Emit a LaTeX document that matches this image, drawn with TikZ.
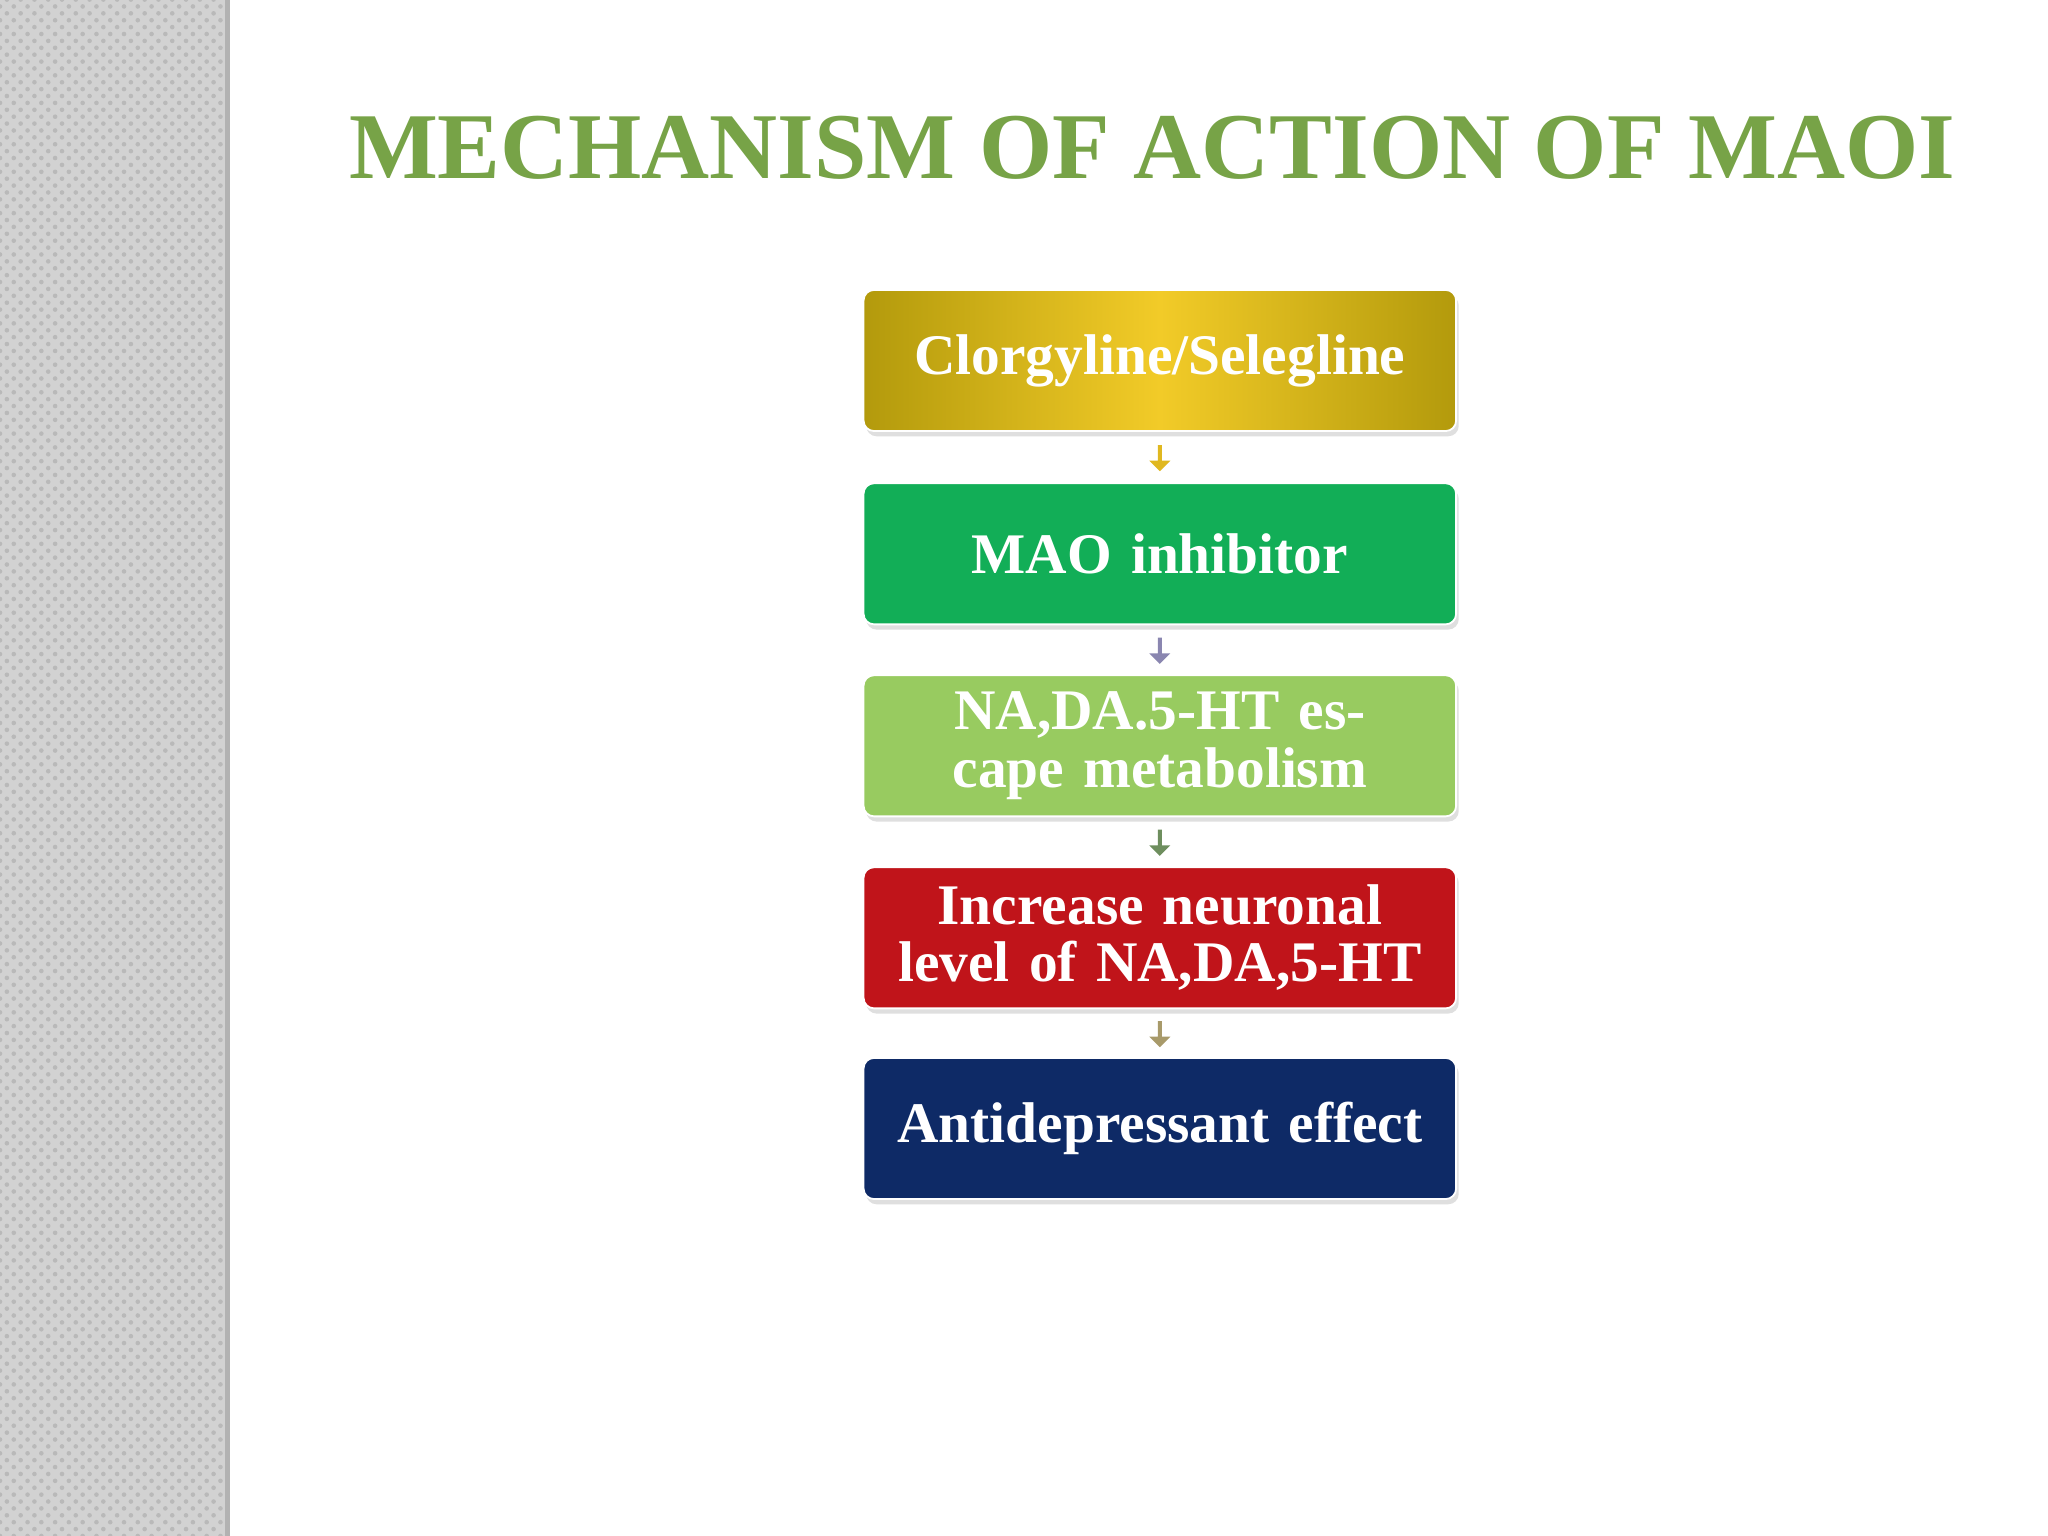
\documentclass[tikz,border=0pt]{standalone}
\usepackage{fontspec}
\setmainfont{Liberation Serif}
\usetikzlibrary{shadows,patterns,calc,shapes.arrows}
\definecolor{ttl}{HTML}{77A347}
\definecolor{gA}{HTML}{F2CB28}\definecolor{gB}{HTML}{B39A0C}
\definecolor{c2}{HTML}{12AE57}\definecolor{c3}{HTML}{98CB60}
\definecolor{c4}{HTML}{C0141A}\definecolor{c5}{HTML}{0E2A66}
\definecolor{a1}{HTML}{E0B820}\definecolor{a2}{HTML}{8A86B0}
\definecolor{a3}{HTML}{6E8E5E}\definecolor{a4}{HTML}{A89A6A}
\tikzset{box/.style={rectangle,rounded corners=0.08cm,minimum width=4.34cm,minimum height=1.08cm,text width=4.3cm,align=center,text=white,font=\fontsize{12.5}{12.5}\selectfont\bfseries,drop shadow={opacity=0.25,shadow xshift=0.02cm,shadow yshift=-0.04cm},draw=white,line width=0.4pt},
arr/.style={single arrow,draw=none,minimum width=0.16cm,single arrow head extend=0.03cm,minimum height=0.2cm,inner sep=0pt,shape border rotate=270}}
\begin{document}
\begin{tikzpicture}[x=0.01cm,y=-0.01cm]
\useasboundingbox (0,0) rectangle (1568,1176);
\fill[white] (0,0) rectangle (1568,1176);
\fill[gray!35] (0,0) rectangle (172,1176);
\fill[pattern=crosshatch dots,pattern color=gray!55] (0,0) rectangle (172,1176);
\fill[gray!60] (172,0) rectangle (176,1176);
\node[text=ttl,font=\fontsize{20.5}{20.5}\selectfont\bfseries] (t) at (882,113) {MECHANISM OF ACTION OF MAOI};
\node[box,left color=gB,right color=gB,middle color=gA] (b1) at (888,276) {Clorgyline/Selegline};
\node[box,fill=c2] (b2) at (888,424) {MAO inhibitor};
\node[box,fill=c3] (b3) at (888,571) {NA,DA.5-HT escape metabolism};
\node[box,fill=c4] (b4) at (888,718) {Increase neuronal level of NA,DA,5-HT};
\node[box,fill=c5] (b5) at (888,864) {Antidepressant effect};
\node[arr,fill=a1] (r1) at ($(b1.south)!0.5!(b2.north)$) {};
\node[arr,fill=a2] (r2) at ($(b2.south)!0.5!(b3.north)$) {};
\node[arr,fill=a3] (r3) at ($(b3.south)!0.5!(b4.north)$) {};
\node[arr,fill=a4] (r4) at ($(b4.south)!0.5!(b5.north)$) {};
\end{tikzpicture}
\end{document}
